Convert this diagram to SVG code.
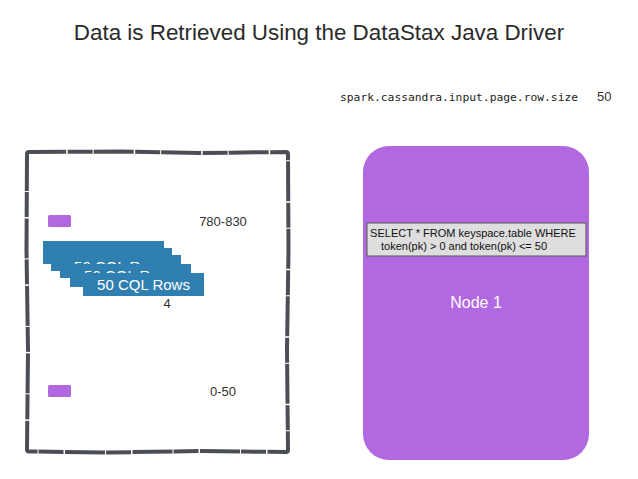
<svg xmlns="http://www.w3.org/2000/svg" width="638" height="479" viewBox="0 0 638 479">
<style>
.title{font-family:"Liberation Sans",Arial,sans-serif;font-size:22.4px;fill:#2a2a2a}
.lbl{font-family:"Liberation Sans",Arial,sans-serif;font-size:13px;fill:#333}
.mono{font-family:"DejaVu Sans Mono","Liberation Mono",monospace;font-size:11.3px;fill:#222}
.blk rect{fill:#2f7fb0}
.blk text{font-family:"Liberation Sans",Arial,sans-serif;font-size:15px;fill:#fff;text-anchor:middle}
.tok{fill:#b168e0}
</style>
<rect width="638" height="479" fill="#fff"/>
<text class="title" x="319" y="40" text-anchor="middle">Data is Retrieved Using the DataStax Java Driver</text>
<text class="mono" x="340" y="101">spark.cassandra.input.page.row.size</text>
<text class="lbl" x="597" y="101" fill="#444">50</text>
<g id="executor">
<path d="M27,154 Q27,152 29,152 L120,151.5 L200,153 L286,152 Q288,152 288,154 L288.5,250 L287,350 L288,450 Q288,452 286,452 L200,451 L110,452.5 L29,451.5 Q27,451.5 27,449.5 L28,350 L26.5,250 Z" fill="none" stroke="#4b4f55" stroke-width="4" stroke-linejoin="round" stroke-dasharray="40 1.5 25 1"/>
</g>
<g id="token-780">
<rect class="tok" x="48" y="215" width="23" height="12" rx="1.5"/>
<text class="lbl" x="223" y="226" text-anchor="middle">780-830</text>
</g>
<g id="token-0">
<rect class="tok" x="48" y="385" width="23" height="12" rx="1.5"/>
<text class="lbl" x="223" y="396" text-anchor="middle">0-50</text>
</g>
<g id="rows" class="blk">
<rect x="43" y="241" width="121" height="23"/><text x="103.5" y="258">50 CQL Rows</text>
<rect x="51" y="248" width="121" height="23"/><text x="111.5" y="265">50 CQL Rows</text>
<rect x="60" y="255" width="121" height="23"/><text x="120.5" y="272">50 CQL Rows</text>
<rect x="70" y="264" width="121" height="23"/><text x="130.5" y="281">50 CQL Rows</text>
<rect x="83" y="273" width="121" height="23"/><text x="143.5" y="290">50 CQL Rows</text>
</g>
<text class="lbl" x="167" y="308" text-anchor="middle" fill="#888">4</text>
<g id="node1">
<rect x="363" y="146" width="226" height="314" rx="26" fill="#b168e0"/>
<text x="476" y="308" text-anchor="middle" font-family="Liberation Sans,Arial,sans-serif" font-size="16" fill="#fff">Node 1</text>
</g>
<g id="query">
<rect x="367" y="223" width="219" height="33" fill="#dedede" stroke="#555" stroke-width="1"/>
<text x="473" y="237" text-anchor="middle" font-family="Liberation Sans,Arial,sans-serif" font-size="11" fill="#111">SELECT * FROM keyspace.table WHERE</text>
<text x="381" y="250" font-family="Liberation Sans,Arial,sans-serif" font-size="11" fill="#111">token(pk) &gt; 0 and token(pk) &lt;= 50</text>
</g>
<g id="connectors"/>
</svg>
